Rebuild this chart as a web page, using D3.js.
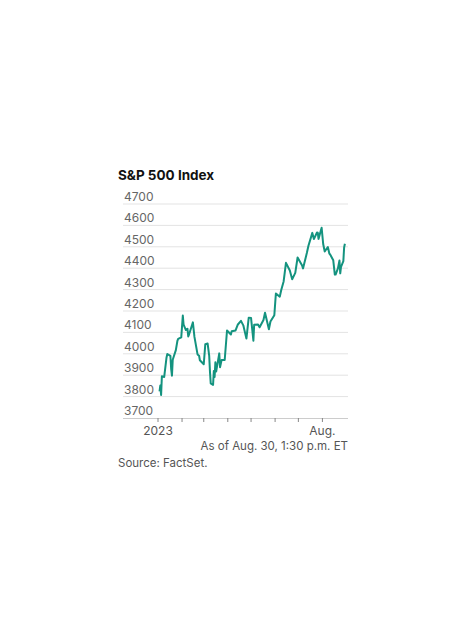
<!DOCTYPE html><html><head><meta charset="utf-8"><script src="https://cdn.jsdelivr.net/npm/d3@7"></script>
<style>body{margin:0;background:#fff}</style></head><body><svg id="c" width="474" height="631"></svg>
<script>
const dates=["2023-01-03","2023-01-04","2023-01-05","2023-01-06","2023-01-09","2023-01-12","2023-01-13","2023-01-17","2023-01-18","2023-01-19","2023-01-20","2023-01-24","2023-01-26","2023-01-27","2023-01-31","2023-02-02","2023-02-03","2023-02-06","2023-02-08","2023-02-09","2023-02-10","2023-02-14","2023-02-15","2023-02-17","2023-02-21","2023-02-23","2023-02-24","2023-03-01","2023-03-03","2023-03-06","2023-03-08","2023-03-09","2023-03-10","2023-03-13","2023-03-14","2023-03-15","2023-03-16","2023-03-17","2023-03-21","2023-03-22","2023-03-24","2023-03-28","2023-03-31","2023-04-05","2023-04-06","2023-04-11","2023-04-14","2023-04-18","2023-04-21","2023-04-25","2023-04-28","2023-05-01","2023-05-04","2023-05-05","2023-05-10","2023-05-12","2023-05-17","2023-05-19","2023-05-24","2023-05-26","2023-05-31","2023-06-02","2023-06-07","2023-06-09","2023-06-12","2023-06-15","2023-06-20","2023-06-23","2023-06-27","2023-06-30","2023-07-06","2023-07-07","2023-07-12","2023-07-14","2023-07-19","2023-07-21","2023-07-25","2023-07-26","2023-07-27","2023-07-31","2023-08-02","2023-08-04","2023-08-08","2023-08-10","2023-08-11","2023-08-15","2023-08-17","2023-08-18","2023-08-21","2023-08-23","2023-08-24","2023-08-25","2023-08-28","2023-08-29","2023-08-30"];
const values=[3824,3852,3808,3895,3892,3983,3999,3990,3928,3898,3972,4017,4060,4070,4077,4179,4136,4111,4117,4081,4090,4136,4147,4079,3997,3991,3970,3951,4045,4048,3992,3918,3862,3855,3920,3892,3960,3917,4002,3937,3971,3971,4109,4090,4105,4109,4137,4154,4133,4071,4169,4167,4061,4136,4137,4124,4158,4192,4115,4151,4180,4282,4267,4299,4338,4425,4389,4348,4378,4450,4411,4399,4472,4505,4565,4536,4567,4566,4537,4589,4513,4478,4499,4468,4464,4437,4370,4370,4399,4436,4376,4406,4433,4497,4514];
const yTicks=[3700,3800,3900,4000,4100,4200,4300,4400,4500,4600,4700];
const xTickMonths=["2023-01-01","2023-02-01","2023-03-01","2023-04-01","2023-05-01","2023-06-01","2023-07-01","2023-08-01"];
const xLabels={"2023-01-01":"2023","2023-08-01":"Aug."};
const p=d3.timeParse("%Y-%m-%d");
const svg=d3.select("#c");
const F="Inter, Roboto, sans-serif";
const x=d3.scaleTime().domain([p("2023-01-01"),p("2023-09-03")]).range([158,348]);
const y=d3.scaleLinear().domain([3700,4700]).range([418,204]);
svg.append("text").attr("x",118).attr("y",180).text("S&P 500 Index").attr("font-family",F).attr("font-weight",700).attr("font-size",13.5).attr("fill","#111");
yTicks.forEach(t=>{
  if(t>3700) svg.append("line").attr("x1",123).attr("x2",348).attr("y1",y(t)).attr("y2",y(t)).attr("stroke","#e3e3e3").attr("stroke-width",1);
  svg.append("text").attr("x",124).attr("y",y(t)-3).text(t).attr("font-family",F).attr("font-size",12).attr("fill","#666");
});
svg.append("line").attr("x1",123).attr("x2",348).attr("y1",418.5).attr("y2",418.5).attr("stroke","#ccc");
xTickMonths.forEach(m=>{
  const xx=x(p(m));
  svg.append("line").attr("x1",xx).attr("x2",xx).attr("y1",418).attr("y2",422).attr("stroke","#888");
  if(xLabels[m]) svg.append("text").attr("x",xx).attr("y",435).attr("text-anchor","middle").text(xLabels[m]).attr("font-family",F).attr("font-size",12).attr("fill","#555");
});
svg.append("text").attr("x",348).attr("y",450).attr("text-anchor","end").text("As of Aug. 30, 1:30 p.m. ET").attr("font-family",F).attr("font-size",11.5).attr("fill","#555");
svg.append("text").attr("x",118).attr("y",467).text("Source: FactSet.").attr("font-family",F).attr("font-size",11.5).attr("fill","#555");
const data=dates.map((d,i)=>({d:p(d),v:values[i]}));
svg.append("path").datum(data).attr("d",d3.line().x(d=>x(d.d)).y(d=>y(d.v))).attr("fill","none").attr("stroke","#14937f").attr("stroke-width",2).attr("stroke-linejoin","round");
</script></body></html>
